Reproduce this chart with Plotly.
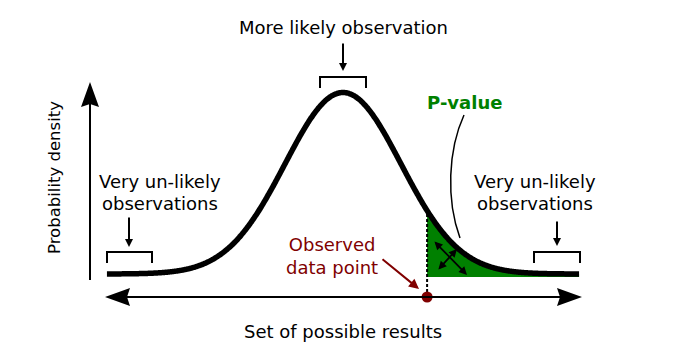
import numpy as np
import plotly.graph_objects as go

# ---------------- data (conceptual, in standard-deviation units) ----------------
mean = 0.0
sd = 1.0
curve_span = 4.07            # curve drawn from -span to +span (in sd)
observed = 1.45              # observed data point (in sd)

curve_x = np.linspace(mean - curve_span * sd, mean + curve_span * sd, 500)
curve_y = np.exp(-0.5 * ((curve_x - mean) / sd) ** 2) / (sd * np.sqrt(2 * np.pi))

tail_x = curve_x[curve_x >= observed]
tail_x = np.concatenate([[observed], tail_x])
tail_y = np.exp(-0.5 * ((tail_x - mean) / sd) ** 2) / (sd * np.sqrt(2 * np.pi))
obs_density = float(tail_y[0])

labels = {
    "top": "More likely observation",
    "unlikely1": "Very un-likely",
    "unlikely2": "observations",
    "pvalue": "P-value",
    "obs": "Observed<br>data point",
    "xlabel": "Set of possible results",
    "ylabel": "Probability density",
}

# ---------------- layout geometry ----------------
W, H = 674, 352
PX_PER_SD = 58.0
CENTER_PX = 343.0
BASE_PX = 274.0
PEAK_PX = 92.5
PX_PER_DENS = (BASE_PX - PEAK_PX) / (1 / np.sqrt(2 * np.pi))
AXIS_Y_PX = 297.0
FILL_BASE_PX = 277.0

x_range = [-CENTER_PX / PX_PER_SD, (W - CENTER_PX) / PX_PER_SD]
y_range = [-(H - BASE_PX) / PX_PER_DENS, BASE_PX / PX_PER_DENS]
axis_level = -(AXIS_Y_PX - BASE_PX) / PX_PER_DENS
fill_base = -(FILL_BASE_PX - BASE_PX) / PX_PER_DENS

GREEN = "#008000"
DARKRED = "#800000"
FONT = "DejaVu Sans"

fig = go.Figure()

# P-value area
fig.add_trace(go.Scatter(
    x=np.concatenate([tail_x, [tail_x[-1], tail_x[0]]]),
    y=np.concatenate([tail_y, [fill_base, fill_base]]),
    fill="toself", fillcolor=GREEN, line=dict(width=0), mode="lines",
    hoverinfo="skip", showlegend=False))

# dashed line from observed point up to curve
fig.add_trace(go.Scatter(
    x=[observed, observed], y=[axis_level, obs_density], mode="lines",
    line=dict(color="black", width=2, dash="3px,2px"),
    hoverinfo="skip", showlegend=False))

# density curve
fig.add_trace(go.Scatter(
    x=curve_x, y=curve_y, mode="lines",
    line=dict(color="black", width=5.5, shape="spline"),
    hoverinfo="skip", showlegend=False))

# observed point
fig.add_trace(go.Scatter(
    x=[observed], y=[axis_level], mode="markers",
    marker=dict(color=DARKRED, size=11, line=dict(width=0)),
    hoverinfo="skip", showlegend=False))

shapes = []
annotations = []

def line(x0, y0, x1, y1, w=2, color="black"):
    shapes.append(dict(type="line", xref="x2", yref="y2", x0=x0, y0=y0, x1=x1, y1=y1,
                       line=dict(color=color, width=w), layer="above"))

def path(d, fill=None, w=2, color="black"):
    shapes.append(dict(type="path", xref="x2", yref="y2", path=d,
                       fillcolor=fill if fill else "rgba(0,0,0,0)",
                       line=dict(color=color, width=w if not fill else 0), layer="above"))

def head(tx, ty, dx, dy, L=25, hw=9, notch=3):
    # barbed arrow head, tip at (tx,ty), pointing along (dx,dy)
    n = np.hypot(dx, dy); ux, uy = dx / n, dy / n
    px_, py_ = -uy, ux
    bx, by = tx - ux * L, ty - uy * L
    p1 = (bx + px_ * hw, by + py_ * hw)
    p2 = (bx - px_ * hw, by - py_ * hw)
    nb = (bx + ux * notch, by + uy * notch)
    d = f"M{tx},{ty} L{p1[0]},{p1[1]} L{nb[0]},{nb[1]} L{p2[0]},{p2[1]} Z"
    path(d, fill="black")

# axes
line(90, 280, 90, 100)
head(90, 82, 0, -1)
line(122, AXIS_Y_PX, 566, AXIS_Y_PX)
head(105, AXIS_Y_PX, -1, 0)
head(582, AXIS_Y_PX, 1, 0)

# brackets
def bracket(x0, x1, ytop, ybot):
    path(f"M{x0},{ybot} L{x0},{ytop} L{x1},{ytop} L{x1},{ybot}", w=2)

bracket(107, 152, 252, 263)
bracket(534, 580, 252, 263)
bracket(320, 366, 77, 88)

# P-value leader curve
path("M464,115 C448,150 446,200 460,238", w=1.5)

def arrow(x, y, ax, ay, color="black", w=2, size=0.8, both=False):
    annotations.append(dict(x=x, y=y, ax=ax, ay=ay, xref="x2", yref="y2",
                            axref="x2", ayref="y2", text="", showarrow=True,
                            arrowhead=2, startarrowhead=2, arrowsize=size,
                            startarrowsize=size, arrowwidth=w, arrowcolor=color,
                            arrowside="end+start" if both else "end",
                            standoff=0, startstandoff=0))

arrow(129, 247, 129, 216)
arrow(557, 246, 557, 220)
arrow(343, 71, 343, 42)
arrow(419, 289, 381, 258, color=DARKRED, w=2, size=1)
arrow(467, 275, 433, 240, w=1.8, size=0.9, both=True)
arrow(457, 249, 437, 271, w=1.8, size=0.9, both=True)

def text(t, x, y, size=18, color="black", bold=False, angle=0):
    annotations.append(dict(x=x, y=y, xref="x2", yref="y2", text=f"<b>{t}</b>" if bold else t,
                            showarrow=False, xanchor="center", yanchor="middle",
                            textangle=angle,
                            font=dict(family=FONT, size=size, color=color)))

text(labels["top"], 343, 27)
text(labels["unlikely1"], 160, 181)
text(labels["unlikely2"], 160, 203)
text(labels["unlikely1"], 535, 181)
text(labels["unlikely2"], 535, 203)
text(labels["pvalue"], 464, 102, color=GREEN, bold=True)
text(labels["obs"], 332, 256, color=DARKRED)
text(labels["xlabel"], 343, 331)
text(labels["ylabel"], 54, 178, size=16.5, angle=-90)

fig.update_layout(
    width=W, height=H, autosize=False,
    margin=dict(l=0, r=0, t=0, b=0, pad=0),
    paper_bgcolor="white", plot_bgcolor="white",
    xaxis=dict(range=x_range, visible=False, fixedrange=True),
    yaxis=dict(range=y_range, visible=False, fixedrange=True),
    xaxis2=dict(range=[0, W], visible=False, overlaying="x", fixedrange=True),
    yaxis2=dict(range=[H, 0], visible=False, overlaying="y", fixedrange=True),
    shapes=shapes, annotations=annotations, showlegend=False,
)

fig.write_html("out.html", config={"displayModeBar": False})
